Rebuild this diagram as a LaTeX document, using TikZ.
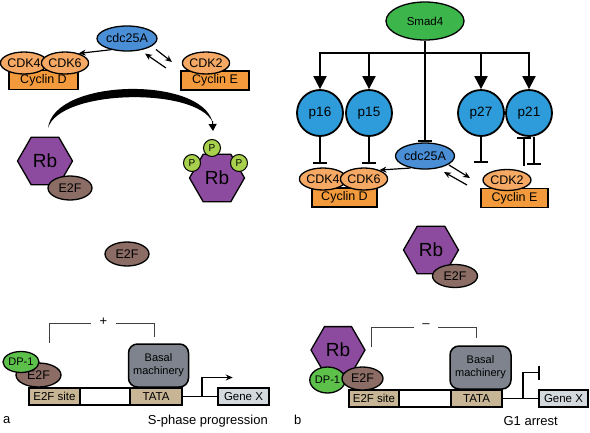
\documentclass[tikz,border=0pt]{standalone}
\usepackage{fontspec}
\setmainfont{Liberation Sans}
\usetikzlibrary{shapes.geometric,arrows.meta}
\definecolor{cdkorange}{HTML}{F5A964}
\definecolor{cycorange}{HTML}{F39B3C}
\definecolor{cdcblue}{HTML}{4A8ED6}
\definecolor{pblue}{HTML}{2E9BDA}
\definecolor{smadgreen}{HTML}{3CB64B}
\definecolor{rbpurple}{HTML}{8D4B9F}
\definecolor{etwofbrown}{HTML}{8B6D65}
\definecolor{plime}{HTML}{A8D04C}
\definecolor{dpgreen}{HTML}{5CC04B}
\definecolor{sitetan}{HTML}{C8B595}
\definecolor{genegray}{HTML}{D4D9DE}
\definecolor{basalgray}{HTML}{7E838D}
\tikzset{
  prot/.style={ellipse,draw,line width=1.3pt,inner sep=0pt,font=\fontsize{12.5}{12.5}\selectfont},
  cdk/.style={prot,fill=cdkorange,minimum width=47pt,minimum height=22pt},
  cyclin/.style={draw,line width=1.5pt,fill=cycorange,inner sep=0pt,minimum height=19pt,font=\fontsize{12.5}{12.5}\selectfont},
  cdc/.style={prot,fill=cdcblue,minimum width=60pt,minimum height=25pt},
  etwof/.style={prot,fill=etwofbrown,minimum width=44pt,minimum height=24pt},
  dp/.style={prot,fill=dpgreen,font=\fontsize{11}{11}\selectfont},
  rb/.style={regular polygon,regular polygon sides=6,draw,line width=1.3pt,fill=rbpurple,minimum size=55pt,inner sep=0pt,font=\fontsize{19}{19}\selectfont},
  phos/.style={circle,draw,line width=1pt,fill=plime,minimum size=17pt,inner sep=0pt,font=\fontsize{10}{10}\selectfont},
  inhib/.style={circle,draw,line width=1.8pt,fill=pblue,minimum size=46pt,inner sep=0pt,font=\fontsize{13.5}{13.5}\selectfont},
  dnabox/.style={draw,line width=1.5pt,inner sep=0pt,minimum height=17pt,font=\fontsize{11.5}{11.5}\selectfont},
  basal/.style={draw,line width=1.5pt,fill=basalgray,rounded corners=9pt,minimum width=60pt,minimum height=43pt,inner sep=0pt,align=center,font=\fontsize{11}{13}\selectfont},
  small arr/.style={line width=1.2pt,-{Stealth[width=6pt,length=7pt]}},
  big arr/.style={line width=2pt,-{Triangle[width=13pt,length=13pt]}},
  inh/.style={line width=2pt,-{Bar[width=14pt]}},
  bracket/.style={line width=1pt,draw=black!75},
  panel/.style={font=\fontsize{13}{13}\selectfont,inner sep=0pt}
}
\begin{document}
\begin{tikzpicture}[x=1pt,y=-1pt]
\useasboundingbox (0,0) rectangle (590,432);
% ---- panel a: cyclin/CDK complexes
\node[cyclin,minimum width=69pt] (cycDa) at (43.5,80) {Cyclin D};
\node[cdk] (cdk4a) at (24,63) {CDK4};
\node[cdk] (cdk6a) at (65,63) {CDK6};
\node[cyclin,minimum width=68pt] (cycEa) at (215,80.5) {Cyclin E};
\node[cdk] (cdk2a) at (206,63) {CDK2};
\node[cdc] (cdcA) at (127,38.5) {cdc25A};
\draw[small arr] (cdcA.215) -- (cdk6a.35);
\draw[small arr] ([shift={(29,11)}]cdcA.center) -- ([shift={(-34,-1)}]cdk2a.center);
\draw[small arr] ([shift={(-40,5)}]cdk2a.center) -- ([shift={(18,15)}]cdcA.center);
% phosphorylation arc
\fill (48,128) .. controls (54,78) and (201,76) .. (212.5,122)
  .. controls (196,87) and (60,89) .. (48,128) -- cycle;
\draw[line width=1pt,-{Triangle[width=8pt,length=7pt]}] (212.5,121) -- (213,131);
% Rb bound / phosphorylated
\node[rb] (rbA) at (45,161) {Rb};
\node[etwof] (e2fA) at (70,188) {E2F};
\node[rb] (rbP) at (217,178) {Rb};
\node[phos] (pTop) at (212,148) {P};
\node[phos] (pLeft) at (192,163) {P};
\node[phos] (pRight) at (239,163) {P};
% free E2F
\node[etwof] (e2fFree) at (127,254) {E2F};
% promoter a
\node[dnabox,fill=sitetan,minimum width=51pt] (siteA) at (54.5,396.5) {E2F site};
\node[dnabox,fill=white,minimum width=50pt] (spacerA) at (105,396.5) {};
\node[dnabox,fill=sitetan,minimum width=52pt] (tataA) at (156,396.5) {TATA};
\node[dnabox,fill=genegray,minimum width=51pt] (geneA) at (243.5,396.5) {Gene X};
\draw[line width=1.5pt] (tataA.east) -- (geneA.west);
\draw[small arr,line width=1.5pt] ([xshift=19pt]tataA.east) |- ++(31,-19);
\node[basal] (basalA) at (158.5,365.5) {Basal\\machinery};
\node[etwof,minimum width=45pt] (e2fBdA) at (38.5,375) {E2F};
\node[dp,minimum width=36pt,minimum height=21pt] (dpA) at (21,362) {DP-1};
\node[font=\fontsize{13}{13}\selectfont,inner sep=0pt,minimum width=25pt] (plusA) at (103.5,322) {+};
\draw[bracket] (plusA.west |- 0,323) -| (49,343);
\draw[bracket] (plusA.east |- 0,323) -| (154,337);
\node[panel,anchor=west] (labA) at (3,420) {a};
\node[panel,anchor=east] (phaseA) at (268,421) {S-phase progression};
% ---- panel b: Smad4 pathway
\node[prot,fill=smadgreen,minimum width=78pt,minimum height=38pt,font=\fontsize{11.5}{11.5}\selectfont] (smad) at (425,21) {Smad4};
\node[inhib] (p16) at (320,113) {p16};
\node[inhib] (p15) at (369,113) {p15};
\node[inhib] (p27) at (481,113) {p27};
\node[inhib] (p21) at (529,113) {p21};
\node[cyclin,minimum width=65pt] (cycDb) at (344.5,197.5) {Cyclin D};
\node[cdk] (cdk4b) at (323,179) {CDK4};
\node[cdk] (cdk6b) at (364,179) {CDK6};
\node[cyclin,minimum width=67pt] (cycEb) at (514.5,198) {Cyclin E};
\node[cdk,minimum width=48pt,minimum height=21pt] (cdk2b) at (507,180) {CDK2};
\node[cdc,minimum width=58pt,minimum height=26pt] (cdcB) at (425,156) {cdc25A};
\coordinate (hub) at (425,53);
\draw[inh] (smad) -- (cdcB);
\foreach \p in {p16,p15,p27,p21}
  \draw[big arr] (hub) -| (\p);
\draw[inh,shorten >=3pt] (p16.south) -- (p16.south |- cdk4b.north);
\draw[inh,shorten >=3pt] (p15.south) -- (p15.south |- cdk6b.north);
\draw[inh,shorten >=6pt] (p27.south) -- (p27.south |- cdk2b.north);
\draw[inh] ([xshift=-5pt,yshift=-29pt]p21.south) -- ([xshift=-5pt]p21.south);
\draw[inh] ([xshift=5pt]p21.south) -- ([xshift=5pt,yshift=-28pt]p21.south);
\draw[small arr] (cdcB.220) -- (cdk6b.30);
\draw[small arr] ([shift={(24,9)}]cdcB.center) -- ([shift={(-37,-2)}]cdk2b.center);
\draw[small arr] ([shift={(-40,5)}]cdk2b.center) -- ([shift={(19,16)}]cdcB.center);
% Rb-E2F complex
\node[rb] (rbB) at (431,250) {Rb};
\node[etwof,minimum width=45pt,minimum height=23pt] (e2fB) at (455,276) {E2F};
% promoter b
\node[dnabox,fill=sitetan,minimum width=50pt] (siteB) at (374,398.5) {E2F site};
\node[dnabox,fill=white,minimum width=52pt] (spacerB) at (425,398.5) {};
\node[dnabox,fill=sitetan,minimum width=51pt] (tataB) at (476.5,398.5) {TATA};
\node[dnabox,fill=genegray,minimum width=49pt] (geneB) at (563.5,398.5) {Gene X};
\draw[line width=1.5pt] (tataB.east) -- (geneB.west);
\draw[line width=1.5pt,-{Bar[width=14pt]}] ([xshift=20pt]tataB.east) |- ++(17,-26);
\node[basal,minimum width=61pt] (basalB) at (480.5,367.5) {Basal\\machinery};
\node[rb,minimum size=54pt] (rbBd) at (338,350) {Rb};
\node[dp,minimum width=31pt,minimum height=26pt] (dpB) at (327.5,380) {DP-1};
\node[etwof,minimum width=41pt,minimum height=23pt] (e2fBdB) at (362.5,378.5) {E2F};
\node[font=\fontsize{13}{13}\selectfont,inner sep=0pt,minimum width=24pt] (minusB) at (426,326) {–};
\draw[bracket] (minusB.west |- 0,327) -| (371,347);
\draw[bracket] (minusB.east |- 0,327) -| (476,338);
\node[panel,anchor=west] (labB) at (294,420) {b};
\node[panel,anchor=east] (phaseB) at (558,421) {G1 arrest};
\end{tikzpicture}
\end{document}
